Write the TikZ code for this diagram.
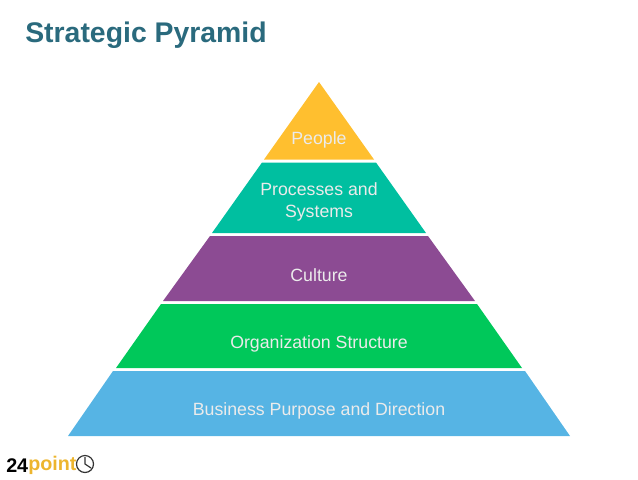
\documentclass[tikz,border=0pt]{standalone}
\usepackage{fontspec}
\setmainfont{Liberation Sans}
\definecolor{titleteal}{HTML}{2A6A7D}
\definecolor{peopleyellow}{HTML}{FFBF2F}
\definecolor{processteal}{HTML}{00BFA0}
\definecolor{culturepurple}{HTML}{8C4B93}
\definecolor{structgreen}{HTML}{00C85A}
\definecolor{purposeblue}{HTML}{56B4E4}
\definecolor{logogold}{HTML}{EDB52E}
\tikzset{
  layerlabel/.style={text=white!92!black, font=\fontsize{13.3pt}{16.5pt}\selectfont, align=center},
  logotext/.style={font=\bfseries\fontsize{14.8pt}{15pt}\selectfont, inner sep=0pt, anchor=base west}
}

\begin{document}
\begin{tikzpicture}[x=0.75pt, y=-0.75pt]
                  \useasboundingbox (0,0) rectangle (638,479);

                  % Define coordinates
                  \coordinate (T) at (319,82);
                  \coordinate (A1) at (264,159.5);
                  \coordinate (A2) at (374,159.5);
                  \coordinate (B1) at (262,162.5);
                  \coordinate (B2) at (376,162.5);
                  \coordinate (C1) at (212,233);
                  \coordinate (C2) at (426,233);
                  \coordinate (D1) at (210,236);
                  \coordinate (D2) at (428,236);
                  \coordinate (E1) at (163,301);
                  \coordinate (E2) at (475,301);
                  \coordinate (F1) at (161,304);
                  \coordinate (F2) at (477,304);
                  \coordinate (G1) at (116,368);
                  \coordinate (G2) at (522,368);
                  \coordinate (H1) at (113,371);
                  \coordinate (H2) at (525,371);
                  \coordinate (I1) at (68,436);
                  \coordinate (I2) at (570,436);

                  % Draw the layers
                  \fill[peopleyellow] (T) -- (A2) -- (A1) -- cycle;
                  \fill[processteal] (B1) -- (B2) -- (C2) -- (C1) -- cycle;
                  \fill[culturepurple] (D1) -- (D2) -- (E2) -- (E1) -- cycle;
                  \fill[structgreen] (F1) -- (F2) -- (G2) -- (G1) -- cycle;
                  \fill[purposeblue] (H1) -- (H2) -- (I2) -- (I1) -- cycle;

                  % Layer labels
                  \node[layerlabel] (people) at (319,140) {People};
                  \node[layerlabel] (processes) at (319,201.5) {Processes and\\Systems};
                  \node[layerlabel] (culture) at (319,275) {Culture};
                  \node[layerlabel] (structure) at (319,344) {Organization Structure};
                  \node[layerlabel] (purpose) at (319,411) {Business Purpose and Direction};

                  % Title
                  \node[anchor=base west, inner sep=0pt, text=titleteal, font=\bfseries\fontsize{21.3pt}{24pt}\selectfont] (title) at (25,42.5) {Strategic Pyramid};

                  % Logo
                  \node[logotext, text=black] (logofour) at (6,472.5) {24};
                  \node[logotext, text=logogold] (logopoint) at (28,470) {point};
                  \coordinate (clock) at (85,464);
                  \draw[black!80, line width=0.9pt] (clock) circle[radius=8.5];
                  \draw[black!80, line width=0.9pt] (85,457) -- (clock) -- (91,468);
\end{tikzpicture}
\end{document}
